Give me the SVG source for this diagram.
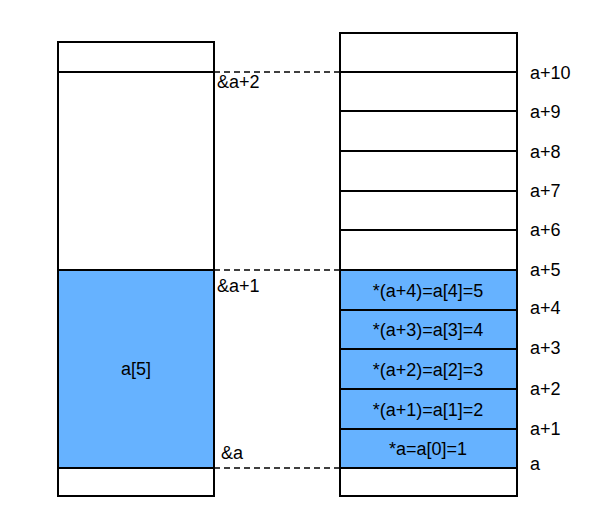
<svg xmlns="http://www.w3.org/2000/svg" width="613" height="518" viewBox="0 0 613 518">
<style>
.b{fill:none;stroke:#000;stroke-width:2}
.f{fill:#66b2ff;stroke:#000;stroke-width:2}
.d{stroke:#000;stroke-width:1.5;stroke-dasharray:6,4}
text{font-family:"Liberation Sans",Arial,sans-serif;font-size:18px;fill:#000}
.c{text-anchor:middle}
</style>
<rect width="613" height="518" fill="#fff"/>
<g id="left">
<rect class="b" x="58" y="42" width="156" height="454"/>
<line class="b" x1="58" y1="72" x2="214" y2="72"/>
<rect class="f" x="58" y="270" width="156" height="198"/>
<text class="c" x="136" y="375">a[5]</text>
<text x="217" y="88">&amp;a+2</text>
<text x="217" y="292">&amp;a+1</text>
<text x="221" y="459">&amp;a</text>
</g>
<g id="right">
<rect class="b" x="340" y="33" width="177" height="463"/>
<line class="b" x1="340" y1="72" x2="517" y2="72"/>
<line class="b" x1="340" y1="111" x2="517" y2="111"/>
<line class="b" x1="340" y1="151" x2="517" y2="151"/>
<line class="b" x1="340" y1="191" x2="517" y2="191"/>
<line class="b" x1="340" y1="230" x2="517" y2="230"/>
<rect class="f" x="340" y="270" width="177" height="40"/>
<rect class="f" x="340" y="310" width="177" height="39"/>
<rect class="f" x="340" y="349" width="177" height="40"/>
<rect class="f" x="340" y="389" width="177" height="40"/>
<rect class="f" x="340" y="429" width="177" height="39"/>
<text class="c" x="428" y="297">*(a+4)=a[4]=5</text>
<text class="c" x="428" y="336">*(a+3)=a[3]=4</text>
<text class="c" x="428" y="376">*(a+2)=a[2]=3</text>
<text class="c" x="428" y="416">*(a+1)=a[1]=2</text>
<text class="c" x="428" y="455">*a=a[0]=1</text>
<text x="530" y="79">a+10</text>
<text x="530" y="118">a+9</text>
<text x="530" y="158">a+8</text>
<text x="530" y="197">a+7</text>
<text x="530" y="236">a+6</text>
<text x="530" y="276">a+5</text>
<text x="530" y="314">a+4</text>
<text x="530" y="354">a+3</text>
<text x="530" y="395">a+2</text>
<text x="530" y="435">a+1</text>
<text x="530" y="470">a</text>
</g>
<g id="connectors">
<line class="d" x1="214" y1="72" x2="340" y2="72"/>
<line class="d" x1="214" y1="270" x2="340" y2="270"/>
<line class="d" x1="214" y1="468" x2="340" y2="468"/>
</g>
</svg>
